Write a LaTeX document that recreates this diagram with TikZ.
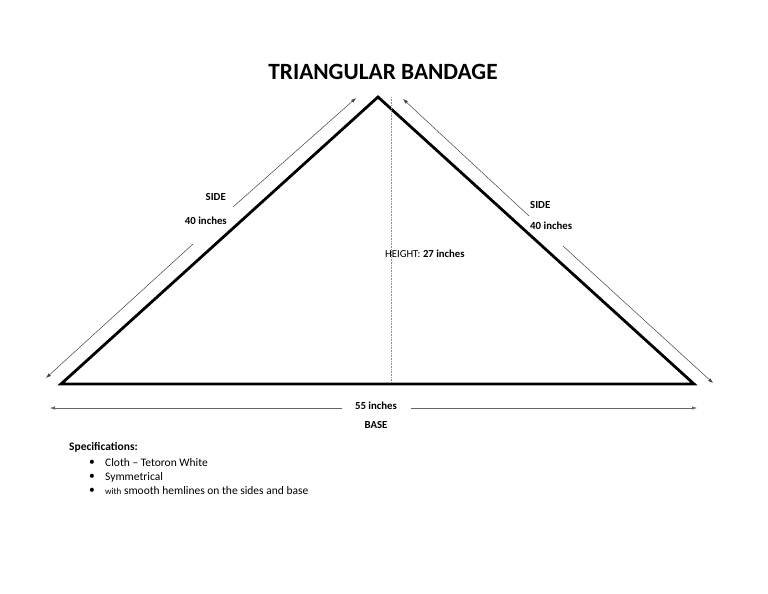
\documentclass[tikz,border=0pt]{standalone}
\usepackage{fontspec}
\setmainfont{Carlito}
\usetikzlibrary{arrows.meta}
\begin{document}
\begin{tikzpicture}[x=1pt, y=-1pt, every node/.style={inner sep=0pt},
    dim/.style={line width=0.5pt, color=black!75, -{Latex[length=5pt, width=3.5pt]}},
    tag/.style={font=\fontsize{10.8}{12}\selectfont\bfseries},
    item/.style={font=\fontsize{11.5}{13}\selectfont, anchor=west}]
      \def\edgewidth{2.8pt}
      \useasboundingbox (0,0) rectangle (768,594);

      %title
      \node[font=\fontsize{23.3}{26}\selectfont\bfseries, name=title] at (383,72) {TRIANGULAR BANDAGE};

      %corners
      \coordinate (left)  at (61,384);
      \coordinate (apex)  at (378,97);
      \coordinate (right) at (694,384);

      %bandage
      \draw[line width=\edgewidth, line join=miter] (left) -- (apex) -- (right) -- cycle;

      %height
      \coordinate (htop)  at (391,97);
      \coordinate (hfoot) at (391,383);
      \draw[black!45, densely dotted, line width=0.6pt] (htop) -- (hfoot);
      \node[anchor=west, font=\fontsize{10.7}{12}\selectfont, name=height] at (385,254) {HEIGHT: \textbf{27 inches}};

      %side left
      \coordinate (sideL1) at (46,378);
      \coordinate (sideL2) at (193,244);
      \coordinate (sideL3) at (233,207);
      \coordinate (sideL4) at (356,98);
      \draw[dim] (sideL2) -- (sideL1);
      \draw[dim] (sideL3) -- (sideL4);
      \node[tag, anchor=east, name=sideLname] at (226,197) {SIDE};
      \node[tag, anchor=east, name=sideLsize] at (227,221) {40 inches};

      %side right
      \coordinate (sideR1) at (403,99);
      \coordinate (sideR2) at (529,216);
      \coordinate (sideR3) at (563,246);
      \coordinate (sideR4) at (713,383);
      \draw[dim] (sideR2) -- (sideR1);
      \draw[dim] (sideR3) -- (sideR4);
      \node[tag, anchor=west, name=sideRname] at (530,205) {SIDE};
      \node[tag, anchor=west, name=sideRsize] at (530,226) {40 inches};

      %base
      \coordinate (base1) at (50,408);
      \coordinate (base2) at (342,408);
      \coordinate (base3) at (411,408);
      \coordinate (base4) at (697,408);
      \draw[dim, color=black!60] (base2) -- (base1);
      \draw[dim, color=black!60] (base3) -- (base4);
      \node[tag, name=basesize] at (376,406) {55 inches};
      \node[tag, name=basename] at (376,425) {BASE};

      %specifications
      \node[item, font=\fontsize{11.5}{13}\selectfont\bfseries, name=spec] at (69,447) {Specifications:};
      \foreach \y/\txt [count=\i] in {463/{Cloth -- Tetoron White},
                                      477/{Symmetrical},
                                      491/{{\fontsize{9}{10}\selectfont with} smooth hemlines on the sides and base}} {
        \node[item, name=dot\i] at (89,\y) {\textbullet};
        \node[item, name=spec\i] at (105,\y) {\txt};
      }
\end{tikzpicture}
\end{document}
